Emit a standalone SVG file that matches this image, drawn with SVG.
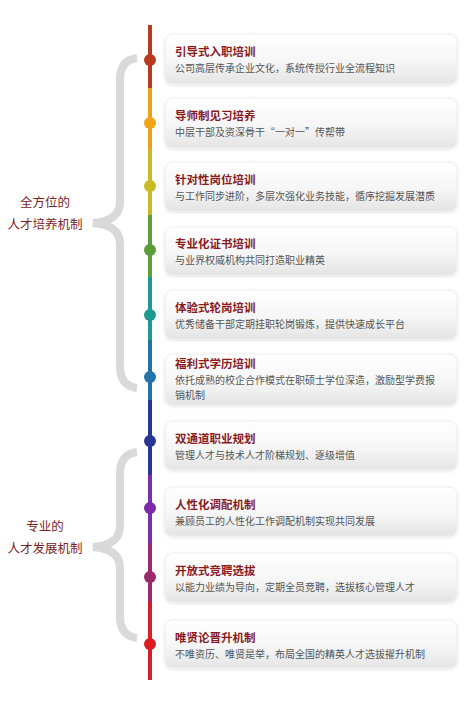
<svg xmlns="http://www.w3.org/2000/svg" width="474" height="705" viewBox="0 0 474 705">
<defs>
<linearGradient id="cardg" x1="0" y1="0" x2="0" y2="1">
<stop offset="0" stop-color="#ffffff"/>
<stop offset="0.55" stop-color="#f6f6f6"/>
<stop offset="1" stop-color="#e4e4e4"/>
</linearGradient>
<filter id="sh" x="-5%" y="-20%" width="110%" height="140%">
<feDropShadow dx="0" dy="1" stdDeviation="1.5" flood-color="#000" flood-opacity="0.12"/>
</filter>
</defs>
<style>
.card{fill:url(#cardg);stroke:#eeeeee;stroke-width:1;filter:url(#sh)}
.t{font-family:"Noto Sans CJK SC","Noto Sans",sans-serif;font-size:11.5px;font-weight:bold;fill:#8a1a1e}
.d{font-family:"Noto Sans CJK SC","Noto Sans",sans-serif;font-size:10px;fill:#555555}
.lab{font-family:"Noto Sans CJK SC","Noto Sans",sans-serif;font-size:12.5px;fill:#7a2226;text-anchor:middle}
.brace{fill:none;stroke:#d9d9d9;stroke-width:8}
.seg{stroke-width:4}
</style>
<rect width="474" height="705" fill="#ffffff"/>
<g id="brace-1">
<path class="brace" d="M137,58 Q120,60 120,80 L120,202 Q120,221 93,223 Q120,225 120,244 L120,366 Q120,386 137,388"/>
<text class="lab" x="45" y="207">全方位的</text>
<text class="lab" x="45" y="229">人才培养机制</text>
</g>
<g id="brace-2">
<path class="brace" d="M137,452 Q120,454 120,474 L120,526 Q120,545 93,547 Q120,549 120,568 L120,616 Q120,636 137,638"/>
<text class="lab" x="45" y="531">专业的</text>
<text class="lab" x="45" y="553">人才发展机制</text>
</g>
<g id="connectors">
<line class="seg" x1="150" y1="25" x2="150" y2="88" stroke="#b83a22"/>
<line class="seg" x1="150" y1="88" x2="150" y2="150" stroke="#e9a21c"/>
<line class="seg" x1="150" y1="150" x2="150" y2="215" stroke="#c8bb26"/>
<line class="seg" x1="150" y1="215" x2="150" y2="277" stroke="#5e9e3c"/>
<line class="seg" x1="150" y1="277" x2="150" y2="340" stroke="#1f9a92"/>
<line class="seg" x1="150" y1="340" x2="150" y2="400" stroke="#2672a6"/>
<line class="seg" x1="150" y1="400" x2="150" y2="475" stroke="#2b3794"/>
<line class="seg" x1="150" y1="475" x2="150" y2="543" stroke="#7a2fa6"/>
<line class="seg" x1="150" y1="543" x2="150" y2="602" stroke="#9a2a6e"/>
<line class="seg" x1="150" y1="602" x2="150" y2="680" stroke="#d91f26"/>
<circle cx="150" cy="60" r="6" fill="#b83a22"/>
<circle cx="150" cy="123" r="6" fill="#efa515"/>
<circle cx="150" cy="186" r="6" fill="#c9bc22"/>
<circle cx="150" cy="250" r="6" fill="#5b9c3a"/>
<circle cx="150" cy="315" r="6" fill="#1d9a90"/>
<circle cx="150" cy="377" r="6" fill="#2573a8"/>
<circle cx="150" cy="441" r="6" fill="#283592"/>
<circle cx="150" cy="508" r="6" fill="#7a2aa6"/>
<circle cx="150" cy="577" r="6" fill="#9a2a6a"/>
<circle cx="150" cy="644" r="6" fill="#dc1e24"/>
</g>
<g id="node-1">
<rect class="card" x="165" y="34" width="292" height="50" rx="8"/>
<text class="t" x="175" y="56">引导式入职培训</text>
<text class="d" x="175" y="72">公司高层传承企业文化，系统传授行业全流程知识</text>
</g>
<g id="node-2">
<rect class="card" x="165" y="98" width="292" height="50" rx="8"/>
<text class="t" x="175" y="120">导师制见习培养</text>
<text class="d" x="175" y="136">中层干部及资深骨干“一对一”传帮带</text>
</g>
<g id="node-3">
<rect class="card" x="165" y="162" width="292" height="49" rx="8"/>
<text class="t" x="175" y="184">针对性岗位培训</text>
<text class="d" x="175" y="200">与工作同步进阶，多层次强化业务技能，循序挖掘发展潜质</text>
</g>
<g id="node-4">
<rect class="card" x="165" y="227" width="292" height="48" rx="8"/>
<text class="t" x="175" y="248">专业化证书培训</text>
<text class="d" x="175" y="264">与业界权威机构共同打造职业精英</text>
</g>
<g id="node-5">
<rect class="card" x="165" y="290" width="292" height="49" rx="8"/>
<text class="t" x="175" y="312">体验式轮岗培训</text>
<text class="d" x="175" y="328">优秀储备干部定期挂职轮岗锻炼，提供快速成长平台</text>
</g>
<g id="node-6">
<rect class="card" x="165" y="354" width="292" height="51" rx="8"/>
<text class="t" x="175" y="368">福利式学历培训</text>
<text class="d" x="175" y="384">依托成熟的校企合作模式在职硕士学位深造，激励型学费报</text>
<text class="d" x="175" y="399">销机制</text>
</g>
<g id="node-7">
<rect class="card" x="165" y="421" width="292" height="49" rx="8"/>
<text class="t" x="175" y="443">双通道职业规划</text>
<text class="d" x="175" y="459">管理人才与技术人才阶梯规划、逐级增值</text>
</g>
<g id="node-8">
<rect class="card" x="165" y="487" width="292" height="49" rx="8"/>
<text class="t" x="175" y="509">人性化调配机制</text>
<text class="d" x="175" y="525">兼顾员工的人性化工作调配机制实现共同发展</text>
</g>
<g id="node-9">
<rect class="card" x="165" y="553" width="292" height="49" rx="8"/>
<text class="t" x="175" y="575">开放式竞聘选拔</text>
<text class="d" x="175" y="591">以能力业绩为导向，定期全员竞聘，选拔核心管理人才</text>
</g>
<g id="node-10">
<rect class="card" x="165" y="620" width="292" height="48" rx="8"/>
<text class="t" x="175" y="642">唯贤论晋升机制</text>
<text class="d" x="175" y="658">不唯资历、唯贤是举，布局全国的精英人才选拔擢升机制</text>
</g>
</svg>
